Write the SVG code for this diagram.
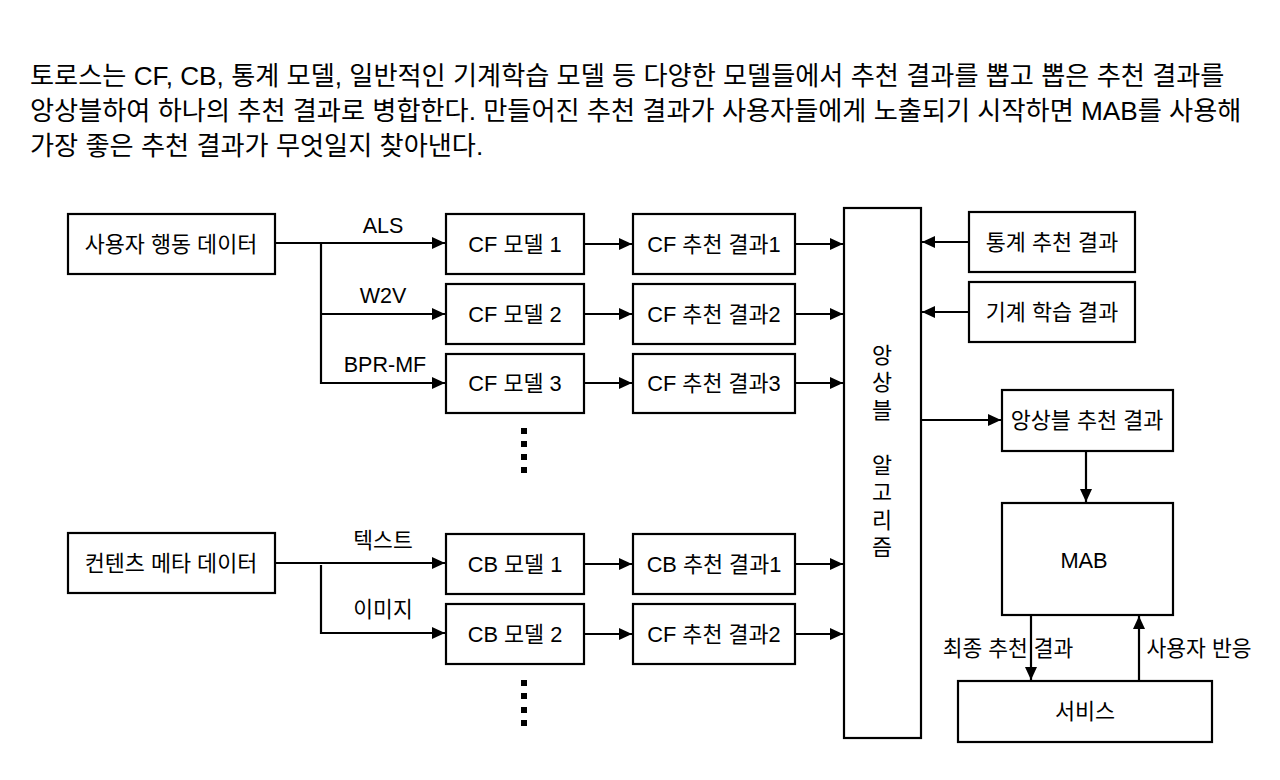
<svg xmlns="http://www.w3.org/2000/svg" width="1280" height="780" viewBox="0 0 1280 780">
<defs>
<style>
text{font-family:"Liberation Sans","Noto Sans CJK KR",sans-serif;fill:#000}
.t{font-size:26.2px}
.b{font-size:21.8px;text-anchor:middle}
.l{font-size:21.5px;text-anchor:middle}
rect.n{fill:#fff;stroke:#000;stroke-width:2.2}
.c{fill:none;stroke:#000;stroke-width:2.2}
.a{marker-end:url(#ah)}
.dot{fill:#000}
</style>
<marker id="ah" markerUnits="userSpaceOnUse" markerWidth="14" markerHeight="12" refX="13" refY="6" orient="auto">
<path d="M0,0 L13,6 L0,12 Z" fill="#000"/>
</marker>
</defs>
<rect width="1280" height="780" fill="#fff"/>
<g id="title">
<text class="t" x="30" y="85">토로스는 CF, CB, 통계 모델, 일반적인 기계학습 모델 등 다양한 모델들에서 추천 결과를 뽑고 뽑은 추천 결과를</text>
<text class="t" x="30" y="120">앙상블하여 하나의 추천 결과로 병합한다. 만들어진 추천 결과가 사용자들에게 노출되기 시작하면 MAB를 사용해</text>
<text class="t" x="30" y="155">가장 좋은 추천 결과가 무엇일지 찾아낸다.</text>
</g>
<g id="connectors">
<path class="c a" d="M275,243 H445"/>
<path class="c a" d="M321,243 V383 H445"/>
<path class="c a" d="M321,314 H445"/>
<path class="c a" d="M584,244 H632"/>
<path class="c a" d="M584,314 H632"/>
<path class="c a" d="M584,383 H632"/>
<path class="c a" d="M795,244 H843"/>
<path class="c a" d="M795,314 H843"/>
<path class="c a" d="M795,383 H843"/>
<path class="c a" d="M275,563 H445"/>
<path class="c a" d="M321,565 V633 H445"/>
<path class="c a" d="M584,564 H632"/>
<path class="c a" d="M584,634 H632"/>
<path class="c a" d="M795,564 H843"/>
<path class="c a" d="M795,634 H843"/>
<path class="c a" d="M969,242 H922"/>
<path class="c a" d="M969,312 H922"/>
<path class="c a" d="M921,420 H1001"/>
<path class="c a" d="M1086,451 V502"/>
<path class="c a" d="M1031,615 V680"/>
<path class="c a" d="M1139,681 V616"/>
<text class="l" x="383" y="233">ALS</text>
<text class="l" x="383" y="303">W2V</text>
<text class="l" x="385" y="372">BPR-MF</text>
<text class="l" x="383" y="548">텍스트</text>
<text class="l" x="383" y="617">이미지</text>
<text class="l" x="1008" y="656">최종 추천 결과</text>
<text class="l" x="1199" y="656">사용자 반응</text>
</g>
<g id="n-user-behavior"><rect class="n" x="68" y="214" width="207" height="60"/><text class="b" x="171" y="252">사용자 행동 데이터</text></g>
<g id="n-content-meta"><rect class="n" x="68" y="533" width="207" height="60"/><text class="b" x="171" y="571">컨텐츠 메타 데이터</text></g>
<g id="n-cf1"><rect class="n" x="446" y="214" width="138" height="60"/><text class="b" x="515" y="252">CF 모델 1</text></g>
<g id="n-cf2"><rect class="n" x="446" y="284" width="138" height="60"/><text class="b" x="515" y="322">CF 모델 2</text></g>
<g id="n-cf3"><rect class="n" x="446" y="354" width="138" height="59"/><text class="b" x="515" y="391">CF 모델 3</text></g>
<g id="n-cb1"><rect class="n" x="446" y="534" width="138" height="60"/><text class="b" x="515" y="572">CB 모델 1</text></g>
<g id="n-cb2"><rect class="n" x="446" y="604" width="138" height="60"/><text class="b" x="515" y="642">CB 모델 2</text></g>
<g id="n-cfr1"><rect class="n" x="633" y="214" width="162" height="60"/><text class="b" x="714" y="252">CF 추천 결과1</text></g>
<g id="n-cfr2"><rect class="n" x="633" y="284" width="162" height="60"/><text class="b" x="714" y="322">CF 추천 결과2</text></g>
<g id="n-cfr3"><rect class="n" x="633" y="354" width="162" height="59"/><text class="b" x="714" y="391">CF 추천 결과3</text></g>
<g id="n-cbr1"><rect class="n" x="633" y="534" width="162" height="60"/><text class="b" x="714" y="572">CB 추천 결과1</text></g>
<g id="n-cbr2"><rect class="n" x="633" y="604" width="162" height="60"/><text class="b" x="714" y="642">CF 추천 결과2</text></g>
<g id="dots-upper"><rect class="dot" x="521" y="428" width="6" height="6"/><rect class="dot" x="521" y="441" width="6" height="6"/><rect class="dot" x="521" y="454" width="6" height="6"/><rect class="dot" x="521" y="467" width="6" height="6"/></g>
<g id="dots-lower"><rect class="dot" x="521" y="680" width="6" height="6"/><rect class="dot" x="521" y="693" width="6" height="6"/><rect class="dot" x="521" y="707" width="6" height="6"/><rect class="dot" x="521" y="720" width="6" height="6"/></g>
<g id="n-ensemble"><rect class="n" x="844" y="208" width="77" height="530"/>
<text class="b" x="882" y="363">앙</text><text class="b" x="882" y="390">상</text><text class="b" x="882" y="418">블</text>
<text class="b" x="882" y="473">알</text><text class="b" x="882" y="500">고</text><text class="b" x="882" y="528">리</text><text class="b" x="882" y="555">즘</text></g>
<g id="n-stat"><rect class="n" x="969" y="212" width="166" height="60"/><text class="b" x="1052" y="250">통계 추천 결과</text></g>
<g id="n-ml"><rect class="n" x="969" y="282" width="166" height="60"/><text class="b" x="1052" y="320">기계 학습 결과</text></g>
<g id="n-ens-result"><rect class="n" x="1002" y="390" width="171" height="61"/><text class="b" x="1087" y="428">앙상블 추천 결과</text></g>
<g id="n-mab"><rect class="n" x="1002" y="503" width="171" height="112"/><text class="b" x="1084" y="568">MAB</text></g>
<g id="n-service"><rect class="n" x="958" y="681" width="254" height="61"/><text class="b" x="1085" y="719">서비스</text></g>
</svg>
